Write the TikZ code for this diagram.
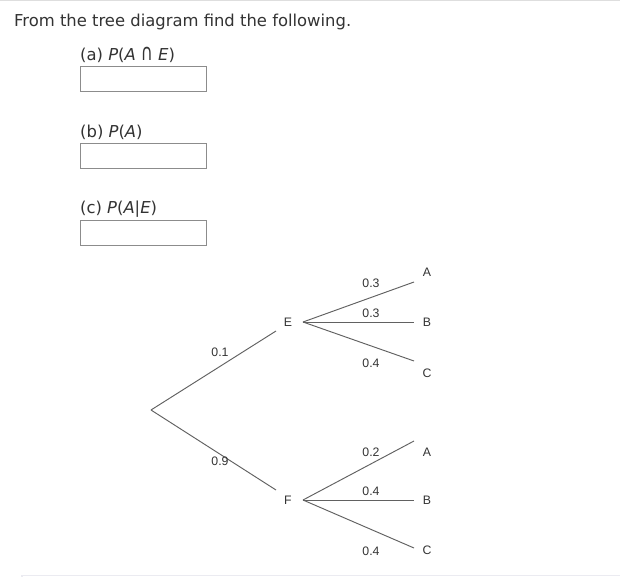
\documentclass[tikz,border=0pt]{standalone}
\usepackage{fontspec}
\setmainfont{DejaVu Sans}
\newfontfamily\treefont{Liberation Sans}
\begin{document}
\begin{tikzpicture}[x=1pt,y=-1pt,
  qtext/.style={anchor=base west,inner sep=0,text=black!80,font=\fontsize{16.4}{19}\selectfont},
  ansbox/.style={draw=black!45,line width=1pt,fill=white,minimum width=126pt,minimum height=25pt,anchor=north west,inner sep=0},
  branch/.style={draw=black!62,line width=0.95pt},
  lbl/.style={text=black!80,inner sep=0,font=\treefont\fontsize{12.3}{14}\selectfont},
]
\useasboundingbox (0,0) rectangle (620,577);
\draw[black!13,line width=1.5pt] (0,0.75) -- (620,0.75);
\draw[blue!30!black!8,line width=1.2pt] (22,577) -- (22,575.4) -- (620,575.4);

\node[qtext] (title) at (14,27) {From the tree diagram find the following.};
\node[qtext] (qa) at (80,61) {(a) \textit{P}(\textit{A} \scalebox{1}[1.4]{∩} \textit{E})};
\node[ansbox] (boxa) at (79.5,66.5) {};
\node[qtext] (qb) at (80,138) {(b) \textit{P}(\textit{A})};
\node[ansbox] (boxb) at (79.5,143.5) {};
\node[qtext] (qc) at (80,214) {(c) \textit{P}(\textit{A}|\textit{E})};
\node[ansbox] (boxc) at (79.5,220) {};

% tree
\coordinate (root) at (151,410);
\node[lbl] (E) at (288,322) {E};
\node[lbl] (F) at (288,500) {F};
\coordinate (Ein) at (276,331);
\coordinate (Eout) at (303,322);
\coordinate (Fin) at (276,490);
\coordinate (Fout) at (303,500);
\coordinate (EA) at (414,282);
\coordinate (EB) at (414,322);
\coordinate (EC) at (414,361);
\coordinate (FA) at (414,441);
\coordinate (FB) at (414,500);
\coordinate (FC) at (414,548);
\node[lbl] (EAl) at (427,272) {A};
\node[lbl] (EBl) at (427,322) {B};
\node[lbl] (ECl) at (427,373) {C};
\node[lbl] (FAl) at (427,452) {A};
\node[lbl] (FBl) at (427,500) {B};
\node[lbl] (FCl) at (427,550) {C};

\draw[branch] (root) -- (Ein);
\draw[branch] (root) -- (Fin);
\draw[branch] (Eout) -- (EA);
\draw[branch] (Eout) -- (EB);
\draw[branch] (Eout) -- (EC);
\draw[branch] (Fout) -- (FA);
\draw[branch] (Fout) -- (FB);
\draw[branch] (Fout) -- (FC);

\node[lbl] (p1) at (220,352) {0.1};
\node[lbl] (p9) at (220,461) {0.9};
\node[lbl] (pEA) at (371,283) {0.3};
\node[lbl] (pEB) at (371,313) {0.3};
\node[lbl] (pEC) at (371,363) {0.4};
\node[lbl] (pFA) at (371,452) {0.2};
\node[lbl] (pFB) at (371,491) {0.4};
\node[lbl] (pFC) at (371,551) {0.4};
\end{tikzpicture}
\end{document}
